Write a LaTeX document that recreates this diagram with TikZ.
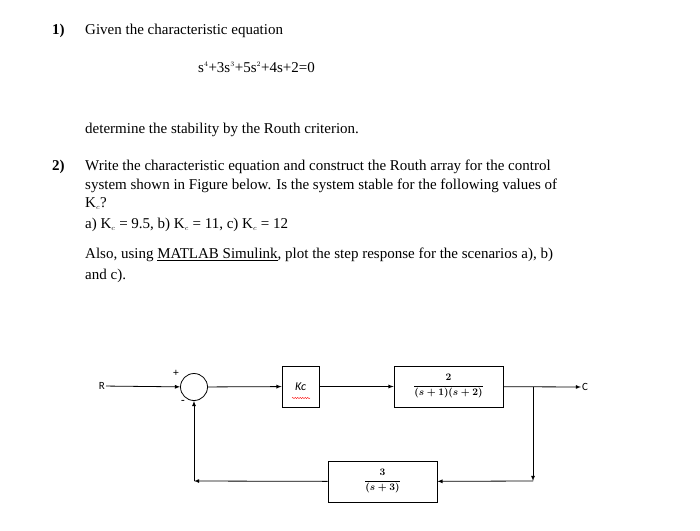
\documentclass[tikz,border=0pt]{standalone}
\usepackage{amsmath}
\usepackage{fontspec}
\setmainfont{Liberation Serif}
\newfontfamily\diag{Carlito}
\usetikzlibrary{decorations.pathmorphing}
\newcommand\gtfA{{\boldmath$\dfrac{2}{(s+1)(s+2)}$}}
\newcommand\gtfB{{\boldmath$\dfrac{3}{(s+3)}$}}
\begin{document}
\begin{tikzpicture}[x=1pt,y=-1pt,
  txt/.style={anchor=base west,inner sep=0,font=\fontsize{15}{18}\selectfont},
  blk/.style={draw,thick,inner sep=0},
  sig/.style={thick,-latex},
  lbl/.style={font=\diag\fontsize{11}{12}\selectfont,inner sep=1}]
\useasboundingbox (0,0) rectangle (700,530);
\node[txt,font=\bfseries\fontsize{15}{18}\selectfont] (n1) at (52,34) {1)};
\node[txt] (t1) at (85,34) {Given the characteristic equation};
\node[txt] (eq) at (198,72) {s$^{\scriptscriptstyle 4}$+3s$^{\scriptscriptstyle 3}$+5s$^{\scriptscriptstyle 2}$+4s+2=0};
\node[txt] (t2) at (85,133) {determine the stability by the Routh criterion.};
\node[txt,font=\bfseries\fontsize{15}{18}\selectfont] (n2) at (52,170) {2)};
\node[txt] (t3) at (85,170) {Write the characteristic equation and construct the Routh array for the control};
\node[txt] (t4) at (85,189) {system shown in Figure below. Is the system stable for the following values of};
\node[txt] (t5) at (85,207) {K$_{\scriptscriptstyle c}$?};
\node[txt] (t6) at (85,228) {a) K$_{\scriptscriptstyle c}$ = 9.5, b) K$_{\scriptscriptstyle c}$ = 11, c) K$_{\scriptscriptstyle c}$ = 12};
\node[txt] (t7) at (85,258) {Also, using \underline{MATLAB Simulink}, plot the step response for the scenarios a), b)};
\node[txt] (t8) at (85,279) {and c).};
% diagram
\node[lbl,anchor=east] (R) at (106,386) {R};
\node[draw,thick,circle,minimum size=27,inner sep=0] (sum) at (194,387) {};
\node[blk,minimum width=37,minimum height=41] (kc) at (300.5,386.5) {\diag\fontsize{12}{13}\selectfont\itshape Kc};
\draw[red,decorate,decoration={snake,amplitude=0.6,segment length=2.5}] (292,398) -- (310,398);
\node[blk,minimum width=109,minimum height=41,font=\fontsize{10}{11}\selectfont] (g) at (448.5,386.5) {\gtfA};
\node[blk,minimum width=109,minimum height=41,font=\fontsize{10}{11}\selectfont] (h) at (382.5,481.5) {\gtfB};
\node[lbl,anchor=west] (C) at (581,387) {C};
\coordinate (br) at (533,387);
\coordinate (dn) at (533,481);
\coordinate (lf) at (194,481);
\draw[sig] (R) -- (sum);
\draw[sig] (sum) -- (kc);
\draw[sig] (kc) -- (g);
\draw[sig] (g) -- (C);
\draw[sig] (br) -- (dn);
\draw[sig] (dn) -- (h);
\draw[sig] (h) -- (lf);
\draw[sig] (lf) -- (sum);
\node[font=\bfseries\fontsize{11}{12}\selectfont,inner sep=0] (plus) at (176,373) {+};
\node[font=\bfseries\fontsize{11}{12}\selectfont,inner sep=0] (minus) at (183,402) {-};
\end{tikzpicture}
\end{document}
